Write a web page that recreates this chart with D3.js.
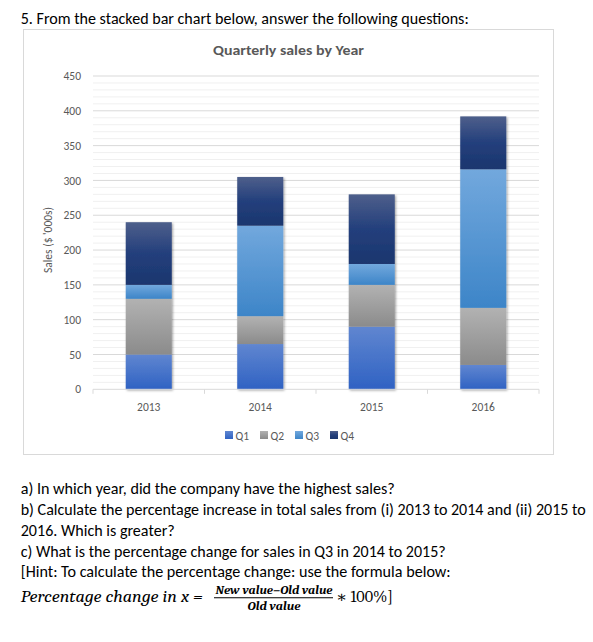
<!DOCTYPE html>
<html>
<head>
<meta charset="utf-8">
<script src="https://cdn.jsdelivr.net/npm/d3@7"></script>
<style>
  html, body { margin: 0; padding: 0; background: #fff; }
  svg { display: block; }
</style>
</head>
<body>
<div class="contents"></div>
<script>
// data
var years = ["2013", "2014", "2015", "2016"];
var quarters = ["Q1", "Q2", "Q3", "Q4"];
var q1 = [50, 65, 90, 35];
var q2 = [80, 40, 60, 82];
var q3 = [20, 130, 30, 199];
var q4 = [90, 70, 100, 76];
var yTicks = [0, 50, 100, 150, 200, 250, 300, 350, 400, 450];

var width = 593;
var height = 642;

var bodyFont = "Carlito, Calibri, 'Open Sans', sans-serif";
var mathFont = "'Cambria Math', Cambria, 'DejaVu Serif', serif";
var chartFontSize = "11.5px";

var rows = years.map(function(y, i) {
	return {year: y, Q1: q1[i], Q2: q2[i], Q3: q3[i], Q4: q4[i]};
});

var svg = d3.select(".contents").append("svg")
			.attr("width", width)
			.attr("height", height);

var defs = svg.append("defs");

// colour gradients per quarter, top to bottom
var grads = {
	Q1: [["0%", "#6086d0"], ["100%", "#2f62c3"]],
	Q2: [["0%", "#b2b2b2"], ["100%", "#8b8b8b"]],
	Q3: [["0%", "#72a8dd"], ["100%", "#3d85c8"]],
	Q4: [["0%", "#4e5f8b"], ["50%", "#233f7c"], ["100%", "#1b366e"]]
};
quarters.forEach(function(q) {
	var g = defs.append("linearGradient")
		.attr("id", "grad" + q)
		.attr("x1", 0).attr("y1", 0).attr("x2", 0).attr("y2", 1);
	grads[q].forEach(function(s) {
		g.append("stop").attr("offset", s[0]).attr("stop-color", s[1]);
	});
});

var shadow = defs.append("filter").attr("id", "shadow")
	.attr("x", "-20%").attr("y", "-20%").attr("width", "140%").attr("height", "140%");
shadow.append("feDropShadow")
	.attr("dx", 1.2).attr("dy", 1.2).attr("stdDeviation", 1.1)
	.attr("flood-color", "#000").attr("flood-opacity", 0.35);

// header text
svg.append("text")
	.attr("x", 20.7).attr("y", 24)
	.attr("textLength", 448).attr("lengthAdjust", "spacingAndGlyphs")
	.style("font-family", bodyFont).style("font-size", "15.5px").style("fill", "#000")
	.text("5. From the stacked bar chart below, answer the following questions:");

// chart frame
svg.append("rect")
	.attr("x", 23.5).attr("y", 29.5)
	.attr("width", 530).attr("height", 425)
	.style("fill", "#fff").style("stroke", "#d9d9d9");

svg.append("text")
	.attr("x", 288.5).attr("y", 55)
	.attr("text-anchor", "middle")
	.attr("textLength", 151).attr("lengthAdjust", "spacingAndGlyphs")
	.style("font-family", bodyFont).style("font-size", "14px")
	.style("font-weight", "bold").style("fill", "#595959")
	.text("Quarterly sales by Year");

var x = d3.scaleBand()
	.domain(years)
	.range([93, 539])
	.paddingInner(0.587)
	.paddingOuter(0.2935);

var y = d3.scaleLinear()
	.domain([0, 450])
	.range([389.3, 76]);

// minor and major gridlines
svg.append("g").selectAll("line")
	.data(d3.range(0, 451, 10).filter(function(d) { return d % 50 != 0; }))
	.enter()
	.append("line")
	.attr("x1", 93).attr("x2", 539)
	.attr("y1", function(d) { return y(d); })
	.attr("y2", function(d) { return y(d); })
	.style("stroke", "#f0f0f0");

svg.append("g").selectAll("line")
	.data(yTicks.slice(1))
	.enter()
	.append("line")
	.attr("x1", 93).attr("x2", 539)
	.attr("y1", function(d) { return y(d); })
	.attr("y2", function(d) { return y(d); })
	.style("stroke", "#d9d9d9");

var yAxis = svg.append("g")
	.attr("transform", "translate(93,0)")
	.call(d3.axisLeft(y).tickValues(yTicks).tickSize(0).tickPadding(12));
yAxis.select(".domain").remove();
yAxis.selectAll("text")
	.style("font-family", bodyFont).style("font-size", chartFontSize).style("fill", "#595959");

svg.append("text")
	.attr("transform", "translate(52,240) rotate(-90)")
	.attr("text-anchor", "middle")
	.style("font-family", bodyFont).style("font-size", chartFontSize).style("fill", "#595959")
	.text("Sales ($ '000s)");

// stacked bars
var stack = d3.stack().keys(quarters);
var series = stack(rows);

var bars = svg.append("g").attr("filter", "url(#shadow)");
bars.selectAll("g")
	.data(series)
	.enter()
	.append("g")
	.style("fill", function(d) { return "url(#grad" + d.key + ")"; })
	.selectAll("rect")
	.data(function(d) { return d; })
	.enter()
	.append("rect")
	.attr("x", function(d) { return x(d.data.year); })
	.attr("width", x.bandwidth())
	.attr("y", function(d) { return y(d[1]); })
	.attr("height", function(d) { return y(d[0]) - y(d[1]); });

// x axis with ticks at category edges
var edges = years.map(function(d) { return x(d) - x.step() * x.paddingInner() / 2; });
edges.push(x.range()[1]);
svg.append("line")
	.attr("x1", 93).attr("x2", 539)
	.attr("y1", y(0)).attr("y2", y(0))
	.style("stroke", "#d9d9d9");
svg.append("g").selectAll("line")
	.data(edges)
	.enter()
	.append("line")
	.attr("x1", function(d) { return d; })
	.attr("x2", function(d) { return d; })
	.attr("y1", y(0)).attr("y2", y(0) + 4.5)
	.style("stroke", "#d9d9d9");

svg.append("g").selectAll("text")
	.data(years)
	.enter()
	.append("text")
	.attr("x", function(d) { return x(d) + x.bandwidth() / 2; })
	.attr("y", 410.5)
	.attr("text-anchor", "middle")
	.style("font-family", bodyFont).style("font-size", chartFontSize).style("fill", "#595959")
	.text(function(d) { return d; });

// legend
var legend = svg.append("g").selectAll("g")
	.data(quarters)
	.enter()
	.append("g")
	.attr("transform", function(d, i) { return "translate(" + (225 + i * 35) + ",431)"; });
legend.append("rect")
	.attr("width", 8).attr("height", 8)
	.style("fill", function(d) { return "url(#grad" + d + ")"; });
legend.append("text")
	.attr("x", 10.5).attr("y", 8.8)
	.style("font-family", bodyFont).style("font-size", chartFontSize).style("fill", "#595959")
	.text(function(d) { return d; });

// questions
var lines = [
	{t: "a) In which year, did the company have the highest sales?", y: 494, w: 374},
	{t: "b) Calculate the percentage increase in total sales from (i) 2013 to 2014 and (ii) 2015 to", y: 515, w: 565},
	{t: "2016. Which is greater?", y: 536, w: 154},
	{t: "c) What is the percentage change for sales in Q3 in 2014 to 2015?", y: 556.5, w: 425},
	{t: "[Hint: To calculate the percentage change: use the formula below:", y: 577, w: 430}
];
svg.append("g").selectAll("text")
	.data(lines)
	.enter()
	.append("text")
	.attr("x", 20.7)
	.attr("y", function(d) { return d.y; })
	.attr("textLength", function(d) { return d.w; })
	.attr("lengthAdjust", "spacingAndGlyphs")
	.style("font-family", bodyFont).style("font-size", "15.5px").style("fill", "#000")
	.text(function(d) { return d.t; });

// formula
svg.append("text")
	.attr("x", 20.7).attr("y", 602)
	.attr("textLength", 182).attr("lengthAdjust", "spacingAndGlyphs")
	.style("font-family", mathFont).style("font-size", "16px")
	.style("font-style", "italic").style("fill", "#000")
	.text("Percentage change in x =");
svg.append("text")
	.attr("x", 274).attr("y", 593.5)
	.attr("text-anchor", "middle")
	.attr("textLength", 117).attr("lengthAdjust", "spacingAndGlyphs")
	.style("font-family", mathFont).style("font-size", "11px")
	.style("font-style", "italic").style("font-weight", "bold").style("fill", "#000")
	.text("New value\u2212Old value");
svg.append("line")
	.attr("x1", 214).attr("x2", 333)
	.attr("y1", 597.8).attr("y2", 597.8)
	.style("stroke", "#000").style("stroke-width", 1.1);
svg.append("text")
	.attr("x", 274).attr("y", 610)
	.attr("text-anchor", "middle")
	.attr("textLength", 53).attr("lengthAdjust", "spacingAndGlyphs")
	.style("font-family", mathFont).style("font-size", "11px")
	.style("font-style", "italic").style("font-weight", "bold").style("fill", "#000")
	.text("Old value");
svg.append("text")
	.attr("x", 336).attr("y", 602)
	.attr("textLength", 57).attr("lengthAdjust", "spacingAndGlyphs")
	.style("font-family", mathFont).style("font-size", "15.5px").style("fill", "#000")
	.text("\u2217 100%]");
</script>
</body>
</html>
